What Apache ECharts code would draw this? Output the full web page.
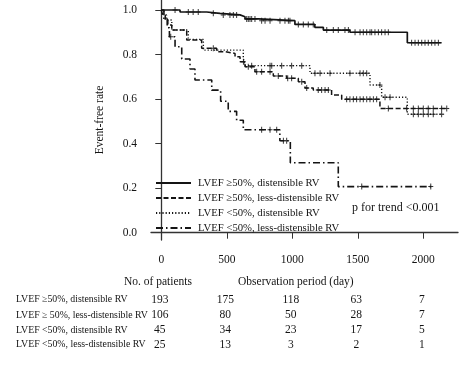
<!DOCTYPE html>
<html>
<head>
<meta charset="utf-8">
<script src="https://cdn.jsdelivr.net/npm/echarts@6/dist/echarts.min.js"></script>
<style>html,body{margin:0;padding:0;background:#fff}#c{width:474px;height:365px}</style>
</head>
<body>
<div id="c"></div>
<script>
// ---------- data ----------
const groupNames = [
  'LVEF \u226550%, distensible RV',
  'LVEF \u226550%, less-distensible RV',
  'LVEF <50%, distensible RV',
  'LVEF <50%, less-distensible RV'
];
const tableRowLabels = [
  'LVEF \u226550%, distensible RV',
  'LVEF \u2265 50%, less-distensible RV',
  'LVEF <50%, distensible RV',
  'LVEF <50%, less-distensible RV'
];
const xTicks = [0, 500, 1000, 1500, 2000];
const yTicks = [0, 0.2, 0.4, 0.6, 0.8, 1.0];

// Kaplan-Meier step curves: [day, event-free rate]
const curveDistLVEFhigh = [[0,1],[143,0.991],[346,0.985],[448,0.978],[601,0.97],[639,0.96],[741,0.952],[1020,0.935],[1172,0.922],[1237,0.91],[1440,0.9],[1878,0.853],[2140,0.853]];
const curveLessLVEFhigh = [[0,1],[10,0.978],[30,0.955],[50,0.933],[80,0.91],[194,0.865],[308,0.828],[423,0.813],[486,0.805],[563,0.79],[601,0.768],[639,0.745],[715,0.723],[855,0.704],[957,0.693],[1046,0.678],[1097,0.65],[1160,0.641],[1300,0.618],[1377,0.599],[1669,0.558],[2191,0.558]];
const curveDistLVEFlow  = [[0,1],[20,0.978],[40,0.955],[80,0.91],[206,0.868],[321,0.82],[626,0.783],[640,0.75],[1135,0.716],[1593,0.663],[1682,0.608],[1878,0.532],[2153,0.532]];
const curveLessLVEFlow  = [[0,1],[20,0.96],[45,0.92],[62,0.88],[105,0.835],[156,0.78],[219,0.735],[257,0.686],[385,0.64],[453,0.59],[511,0.545],[575,0.505],[626,0.462],[905,0.413],[985,0.314],[1351,0.207],[2064,0.207]];

// censoring times (days)
const censorDistLVEFhigh = [105,206,243,282,397,473,524,550,575,652,664,677,690,715,766,792,830,906,944,970,982,1046,1084,1122,1160,1263,1313,1351,1402,1428,1479,1517,1542,1568,1593,1606,1631,1657,1682,1708,1733,1911,1937,1962,1988,2013,2038,2064,2089,2115];
const censorLessLVEFhigh = [397,627,664,728,766,830,893,965,995,1072,1110,1198,1224,1250,1275,1415,1440,1466,1491,1517,1542,1568,1593,1619,1644,1733,1873,1924,1962,2000,2038,2076,2140,2179];
const censorDistLVEFlow  = [690,830,843,919,995,1072,1173,1212,1288,1440,1517,1542,1568,1669,1708,1746,1924,1962,2000,2038,2076,2140];
const censorLessLVEFlow  = [72,766,830,881,932,957,1530,2057];

// numbers at risk
const atRiskDistLVEFhigh = [193,175,118,63,7];
const atRiskLessLVEFhigh = [106,80,50,28,7];
const atRiskDistLVEFlow  = [45,34,23,17,5];
const atRiskLessLVEFlow  = [25,13,3,2,1];

const pText = 'p for trend <0.001';
// ---------- chart ----------
const curves = [curveDistLVEFhigh, curveLessLVEFhigh, curveDistLVEFlow, curveLessLVEFlow];
const censors = [censorDistLVEFhigh, censorLessLVEFhigh, censorDistLVEFlow, censorLessLVEFlow];
const atRisk = [atRiskDistLVEFhigh, atRiskLessLVEFhigh, atRiskDistLVEFlow, atRiskLessLVEFlow];
const dashes = ['solid', [5,2.5], [1.2,2], [7,3,1.5,3]];
const widths = [1.7, 1.5, 1.4, 1.6];
const FONT = '"Liberation Serif","DejaVu Serif",serif';
const INK = '#141414';

function survAt(curve, t) {
  let v = curve[0][1];
  for (const p of curve) { if (p[0] <= t) v = p[1]; }
  return v;
}

const series = [];
curves.forEach((c, i) => {
  series.push({
    name: groupNames[i], type: 'line', step: 'end', data: c, symbol: 'none',
    lineStyle: { color: INK, width: widths[i], type: dashes[i] }, itemStyle: { color: INK },
    silent: true, animation: false, z: 3
  });
});
censors.forEach((cs, i) => {
  series.push({
    name: 'censor' + i, type: 'scatter', data: cs.map(t => [t, survAt(curves[i], t)]),
    symbol: 'path://M2,0H3V2.5H5V3.5H3V6H2V3.5H0V2.5H2Z', symbolSize: [5, 6],
    itemStyle: { color: INK, opacity: 0.85 }, silent: true, animation: false, z: 4
  });
});

const chart = echarts.init(document.getElementById('c'), null, { renderer: 'canvas' });
chart.setOption({
  animation: false,
  backgroundColor: '#fff',
  textStyle: { fontFamily: FONT, color: INK },
  grid: { left: 151, right: 16, top: 0, bottom: 125, containLabel: false },
  xAxis: {
    type: 'value', min: -78.6, max: 2264.9,
    axisLine: { show: true, lineStyle: { color: '#333', width: 1.3 } },
    axisTick: { show: true, length: 6, inside: false, customValues: xTicks, lineStyle: { color: '#333', width: 1 } },
    axisLabel: { customValues: xTicks, formatter: v => String(v), fontFamily: FONT, fontSize: 11.5, color: INK, margin: 14 },
    splitLine: { show: false }
  },
  yAxis: {
    type: 'value', min: -0.0328, max: 1.0449,
    name: 'Event-free rate', nameLocation: 'middle', nameGap: 45, nameRotate: 90,
    nameTextStyle: { fontFamily: FONT, fontSize: 11.5, color: INK },
    axisLine: { show: true, lineStyle: { color: '#333', width: 1.3 } },
    axisTick: { show: true, length: 6, inside: false, customValues: yTicks, lineStyle: { color: '#333', width: 1 } },
    axisLabel: { customValues: yTicks, formatter: v => v.toFixed(1), fontFamily: FONT, fontSize: 11.5, color: INK, margin: 14 },
    splitLine: { show: false }
  },
  legend: {
    data: groupNames, orient: 'vertical', left: 155, top: 177.5, padding: 0,
    itemWidth: 35, itemHeight: 12, itemGap: 4,
    itemStyle: { opacity: 0, borderWidth: 0 },
    textStyle: { fontFamily: FONT, fontSize: 10.7, color: INK, padding: [0,0,0,2] },
    selectedMode: false
  },
  series: series
});

// text annotations and number-at-risk table positioned via axis scale
const g = [];
g.push({ type: 'text', left: 352, top: 202, style: { text: pText, font: '12px ' + FONT, fill: INK } });
g.push({ type: 'text', right: 474 - 192, top: 276, style: { text: 'No. of patients', font: '11.5px ' + FONT, fill: INK } });
g.push({ type: 'text', left: 238, top: 276, style: { text: 'Observation period (day)', font: '11.5px ' + FONT, fill: INK } });
const rowY = [299.5, 315, 330, 344.5];
tableRowLabels.forEach((lab, r) => {
  g.push({ type: 'text', x: 16, y: rowY[r], style: { text: lab, font: '9.8px ' + FONT, fill: INK, textVerticalAlign: 'middle', textAlign: 'left' } });
  atRisk[r].forEach((n, k) => {
    const px = chart.convertToPixel({ xAxisIndex: 0 }, xTicks[k]) - 1.5;
    g.push({ type: 'text', x: px, y: rowY[r], style: { text: String(n), font: '11.5px ' + FONT, fill: INK, textAlign: 'center', textVerticalAlign: 'middle' } });
  });
});
chart.setOption({ graphic: g });
</script>
</body>
</html>
